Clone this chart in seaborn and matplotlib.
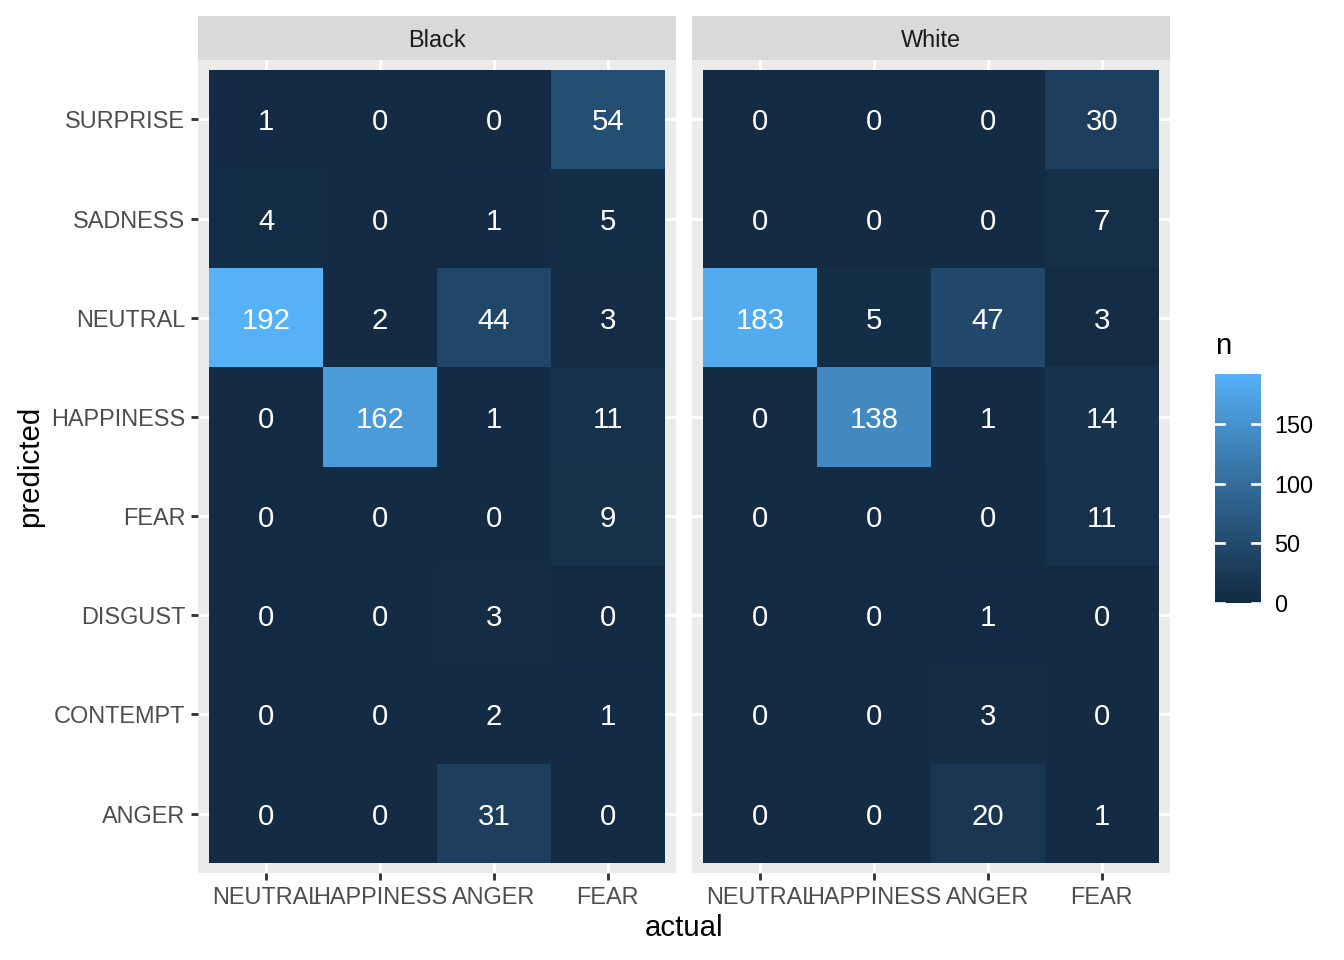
import numpy as np
import pandas as pd
import matplotlib
matplotlib.use("Agg")
import matplotlib.pyplot as plt
from matplotlib.colors import ListedColormap
import seaborn as sns

# confusion counts, rows = predicted (top to bottom), cols = actual
predicted = ["SURPRISE", "SADNESS", "NEUTRAL", "HAPPINESS", "FEAR", "DISGUST", "CONTEMPT", "ANGER"]
actual = ["NEUTRAL", "HAPPINESS", "ANGER", "FEAR"]
groups = ["Black", "White"]

black = [
    [1, 0, 0, 54],
    [4, 0, 1, 5],
    [192, 2, 44, 3],
    [0, 162, 1, 11],
    [0, 0, 0, 9],
    [0, 0, 3, 0],
    [0, 0, 2, 1],
    [0, 0, 31, 0],
]
white = [
    [0, 0, 0, 30],
    [0, 0, 0, 7],
    [183, 5, 47, 3],
    [0, 138, 1, 14],
    [0, 0, 0, 11],
    [0, 0, 1, 0],
    [0, 0, 3, 0],
    [0, 0, 20, 1],
]
cbar_ticks = [0, 50, 100, 150]


# ggplot-like gradient, interpolated in Lab space
def to_lab(rgb):
    c = np.asarray(rgb, float)
    c = np.where(c <= 0.04045, c / 12.92, ((c + 0.055) / 1.055) ** 2.4)
    M = np.array([[0.4124, 0.3576, 0.1805], [0.2126, 0.7152, 0.0722], [0.0193, 0.1192, 0.9505]])
    xyz = M @ c / np.array([0.95047, 1.0, 1.08883])
    f = np.where(xyz > 0.008856, np.cbrt(xyz), 7.787 * xyz + 16 / 116)
    return np.array([116 * f[1] - 16, 500 * (f[0] - f[1]), 200 * (f[1] - f[2])])


def from_lab(lab):
    L, a, b = lab
    fy = (L + 16) / 116
    fx = fy + a / 500
    fz = fy - b / 200
    f = np.array([fx, fy, fz])
    xyz = np.where(f ** 3 > 0.008856, f ** 3, (f - 16 / 116) / 7.787) * np.array([0.95047, 1.0, 1.08883])
    Mi = np.array([[3.2406, -1.5372, -0.4986], [-0.9689, 1.8758, 0.0415], [0.0557, -0.2040, 1.0570]])
    c = Mi @ xyz
    c = np.where(c <= 0.0031308, 12.92 * c, 1.055 * np.clip(c, 0, None) ** (1 / 2.4) - 0.055)
    return np.clip(c, 0, 1)


lo = to_lab(matplotlib.colors.to_rgb("#132B43"))
hi = to_lab(matplotlib.colors.to_rgb("#56B1F7"))
cmap = ListedColormap([from_lab(lo + t * (hi - lo)) for t in np.linspace(0, 1, 256)])
vmax = max(np.max(black), np.max(white))

plt.rcParams["font.family"] = ["Liberation Sans", "DejaVu Sans"]

fig = plt.figure(figsize=(7, 5), dpi=192)
W, H = 1344, 960
panel_x = [(198, 676), (692, 1170)]
top, bottom = 60, 873

for i, (name, mat) in enumerate(zip(groups, [black, white])):
    x0, x1 = panel_x[i]
    ax = fig.add_axes([x0 / W, (H - bottom) / H, (x1 - x0) / W, (bottom - top) / H])
    df = pd.DataFrame(mat, index=predicted, columns=actual)
    sns.heatmap(df, ax=ax, cmap=cmap, vmin=0, vmax=vmax, annot=True, fmt="d", cbar=False,
                annot_kws={"color": "white", "size": 11, "va": "center_baseline"})
    ax.set_xlim(-0.1, 4.1)
    ax.set_ylim(8.1, -0.1)
    ax.set_facecolor("#EBEBEB")
    ax.set_axisbelow(True)
    ax.grid(True, color="white", lw=1.07)
    ax.set_xlabel("")
    ax.set_ylabel("")
    ax.tick_params(length=2.75, width=1.07, color="#333333", labelcolor="#4D4D4D", labelsize=8.8, pad=2)
    ax.set_xticklabels(actual, rotation=0)
    if i == 0:
        ax.set_yticklabels(predicted, rotation=0, va="center_baseline")
    else:
        ax.tick_params(axis="y", left=False, labelleft=False)
    for s in ax.spines.values():
        s.set_visible(False)

    sax = fig.add_axes([x0 / W, (H - top) / H, (x1 - x0) / W, 44 / H])
    sax.set_facecolor("#D9D9D9")
    sax.set_xticks([])
    sax.set_yticks([])
    for s in sax.spines.values():
        s.set_visible(False)
    sax.text(0.5, 0.45, name, ha="center", va="center", size=8.8, color="#1A1A1A", transform=sax.transAxes)

fig.text(684 / W, (H - 928) / H, "actual", ha="center", va="center", size=11)
fig.text(30 / W, (H - 466) / H, "predicted", ha="center", va="center", size=11, rotation=90)

# colour bar
cax = fig.add_axes([1215 / W, (H - 603) / H, 46 / W, 229 / H])
cax.imshow(np.linspace(0, vmax, 300)[:, None], aspect="auto", cmap=cmap, origin="lower",
           extent=[0, 1, 0, vmax], vmin=0, vmax=vmax)
for t in cbar_ticks:
    cax.plot([0, 0.2], [t, t], color="white", lw=1)
    cax.plot([0.8, 1], [t, t], color="white", lw=1)
cax.set_xlim(0, 1)
cax.set_ylim(0, vmax)
cax.set_xticks([])
cax.yaxis.tick_right()
cax.set_yticks(cbar_ticks)
cax.tick_params(axis="y", length=0, labelsize=8.8, pad=5)
for s in cax.spines.values():
    s.set_visible(False)
fig.text(1215 / W, (H - 346) / H, "n", ha="left", va="center", size=11)

fig.savefig("out.png", dpi=192)
